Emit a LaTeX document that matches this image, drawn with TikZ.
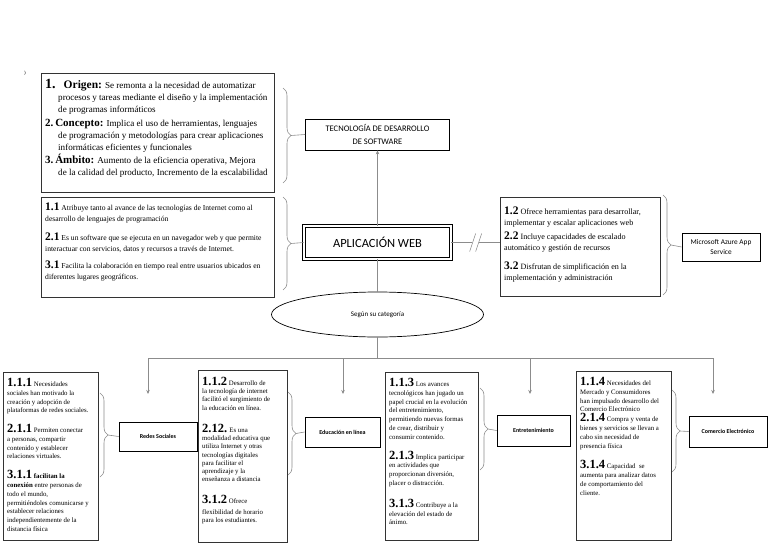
\documentclass[tikz,border=0pt]{standalone}
\usepackage{fontspec}
\setmainfont{Liberation Serif}
\setsansfont{Carlito}
\usetikzlibrary{shapes.geometric,decorations.pathreplacing,arrows.meta}

\definecolor{lineg}{HTML}{8C8C8C}
\definecolor{boxg}{HTML}{333333}

\newcommand\bignum[1]{{\fontsize{12.5}{12}\selectfont\bfseries #1}}
\newcommand\midnum[1]{{\fontsize{11.5}{12}\selectfont\bfseries #1}}

\tikzset{
  txtbox/.style={draw=boxg, line width=1.2pt, anchor=north west, inner sep=0pt},
  txt/.style={anchor=north west, align=left, inner sep=0pt, font=\fontsize{6.8}{8.8}\selectfont},
  catbox/.style={draw, line width=0.9pt, font=\sffamily\bfseries\fontsize{6}{7}\selectfont, align=center},
  link/.style={draw=lineg, line width=0.6pt},
  brc/.style={draw=lineg, line width=0.6pt, decorate, decoration={brace, amplitude=8pt}},
}

\begin{document}
\begin{tikzpicture}[x=1pt, y=-1pt, >={Stealth[length=4pt, width=3.5pt]}]
  \useasboundingbox (0,0) rectangle (768,543);

  % upper part
  \node[inner sep=0pt, font=\fontsize{5}{5}\selectfont] (mark) at (25,73) {)};
  \node[txtbox, minimum width=233pt, minimum height=119pt] (origen) at (41,73) {};
  \node[txt, font=\fontsize{9.1}{12}\selectfont] (origentxt) at (45,79) {%
    {\fontsize{14}{14}\selectfont\bfseries 1.}\hspace{8pt}{\fontsize{11.5}{12}\selectfont\bfseries Origen:} Se remonta a la necesidad de automatizar\\
    \hspace*{13pt}procesos y tareas mediante el diseño y la implementación\\
    \hspace*{13pt}de programas informáticos\\[2pt]
    {\fontsize{11}{12}\selectfont\bfseries 2.\,Concepto:} Implica el uso de herramientas, lenguajes\\
    \hspace*{13pt}de programación y metodologías para crear aplicaciones\\
    \hspace*{13pt}informáticas eficientes y funcionales\\[1pt]
    {\fontsize{11}{12}\selectfont\bfseries 3.\,Ámbito:} Aumento de la eficiencia operativa, Mejora\\
    \hspace*{13pt}de la calidad del producto, Incremento de la escalabilidad};

  \node[txtbox, minimum width=233pt, minimum height=100pt] (concepto) at (41,197) {};
  \node[txt, font=\fontsize{7.6}{11}\selectfont] (conceptotxt) at (45,203) {%
    \midnum{1.1} Atribuye tanto al avance de las tecnologías de Internet como al\\
    desarrollo de lenguajes de programación\\[8pt]
    \midnum{2.1} Es un software que se ejecuta en un navegador web y que permite\\
    interactuar con servicios, datos y recursos a través de Internet.\\[6pt]
    \midnum{3.1} Facilita la colaboración en tiempo real entre usuarios ubicados en\\
    diferentes lugares geográficos.};

  \node[draw, line width=0.7pt, minimum width=144pt, minimum height=31pt, align=center,
        font=\sffamily\fontsize{8.5}{13}\selectfont] (tecno) at (377.5,134.5) {TECNOLOGÍA DE DESARROLLO\\DE SOFTWARE};
  \node[draw, double, double distance=2.5pt, line width=0.7pt, minimum width=147pt, minimum height=33pt,
        font=\sffamily\fontsize{12.5}{14}\selectfont] (appweb) at (377.5,242.5) {APLICACIÓN WEB};
  \node[ellipse, draw, line width=0.7pt, minimum width=212pt, minimum height=45pt,
        font=\sffamily\fontsize{7}{8}\selectfont] (cat) at (377.5,314.5) {Según su categoría};

  \node[txtbox, minimum width=160pt, minimum height=99pt] (azurebox) at (500,197) {};
  \node[txt, font=\fontsize{8.1}{10.5}\selectfont] (azuretxt) at (504,207) {%
    \midnum{1.2} Ofrece herramientas para desarrollar,\\
    implementar y escalar aplicaciones web\\[4pt]
    \midnum{2.2} Incluye capacidades de escalado\\
    automático y gestión de recursos\\[9pt]
    \midnum{3.2} Disfrutan de simplificación en la\\
    implementación y administración};
  \node[draw, line width=0.8pt, minimum width=78pt, minimum height=28pt, align=center,
        font=\sffamily\fontsize{7.3}{10}\selectfont] (azure) at (721,247) {Microsoft Azure App\\Service};

  % braces
  \coordinate (t1) at (291,135.5);
  \coordinate (t2) at (291,243.5);
  \coordinate (t3) at (671,245);
  \draw[brc] (283,88) -- (283,183);
  \draw[brc] (283,197) -- (283,290);
  \draw[brc] (663,195) -- (663,295);
  \draw[link] (t1) -- (tecno.west);
  \draw[link] (t2) -- (appweb.west);
  \draw[link] (t3) -- (azure.west);

  \draw[link, ->] (appweb.north) -- (tecno.south);
  \draw[link] (appweb.south) -- (cat.north);
  \draw[link] (appweb.east) -- (appweb.east -| azurebox.west)
    node[pos=0.5, fill=white, inner sep=0pt, minimum width=7pt, minimum height=2pt] (brk) {};
  \draw[link] ([shift={(-6,9)}]brk.center) -- ([shift={(0,-9)}]brk.center);
  \draw[link] ([shift={(0,9)}]brk.center) -- ([shift={(6,-9)}]brk.center);

  % categories
  \coordinate (jn) at (377.5,358);
  \coordinate (dR) at (148,394);
  \coordinate (dE) at (343,394);
  \coordinate (dT) at (530,394);
  \coordinate (dC) at (713,394);
  \draw[link] (cat.south) -- (jn);
  \draw[link, ->] (jn) -| (dR);
  \draw[link, ->] (jn) -| (dE);
  \draw[link, ->] (jn) -| (dT);
  \draw[link, ->] (jn) -| (dC);

  \node[catbox, minimum width=78pt, minimum height=29pt] (redes) at (158,436.5) {Redes Sociales};
  \node[catbox, minimum width=75pt, minimum height=30pt] (educ) at (342.5,432) {Educación en línea};
  \node[catbox, minimum width=73pt, minimum height=31pt] (entre) at (533.5,430.5) {Entretenimiento};
  \node[catbox, minimum width=78pt, minimum height=31pt] (comer) at (728,431.5) {Comercio Electrónico};

  \node[txtbox, minimum width=95pt, minimum height=168pt] (redesbox) at (3,372) {};
  \node[txt] (redestxt) at (7,378) {%
    \bignum{1.1.1} Necesidades\\
    sociales han motivado la\\
    creación y adopción de\\
    plataformas de redes sociales.\\[9pt]
    \bignum{2.1.1} Permiten conectar\\
    a personas, compartir\\
    contenido y establecer\\
    relaciones virtuales.\\[11pt]
    \bignum{3.1.1} \textbf{facilitan la}\\
    \textbf{conexión} entre personas de\\
    todo el mundo,\\
    permitiéndoles comunicarse y\\
    establecer relaciones\\
    independientemente de la\\
    distancia física};

  \node[txtbox, minimum width=89pt, minimum height=172pt] (educbox) at (198,370) {};
  \node[txt, font=\fontsize{6.8}{8.2}\selectfont] (eductxt) at (202,377) {%
    \bignum{1.1.2} Desarrollo de\\
    la tecnología de internet\\
    facilitó el surgimiento de\\
    la educación en línea.\\[13pt]
    \bignum{2.12.} Es una\\
    modalidad educativa que\\
    utiliza Internet y otras\\
    tecnologías digitales\\
    para facilitar el\\
    aprendizaje y la\\
    enseñanza a distancia\\[13pt]
    \bignum{3.1.2} Ofrece\\[2pt]
    flexibilidad de horario\\
    para los estudiantes.};

  \node[txtbox, minimum width=93pt, minimum height=168pt] (entrebox) at (385,372) {};
  \node[txt] (entretxt) at (389,378) {%
    \bignum{1.1.3} Los avances\\
    tecnológicos han jugado un\\
    papel crucial en la evolución\\
    del entretenimiento,\\
    permitiendo nuevas formas\\
    de crear, distribuir y\\
    consumir contenido.\\[11pt]
    \bignum{2.1.3} Implica participar\\
    en actividades que\\
    proporcionan diversión,\\
    placer o distracción.\\[11pt]
    \bignum{3.1.3} Contribuye a la\\
    elevación del estado de\\
    ánimo.};

  \node[txtbox, minimum width=95pt, minimum height=169pt] (comerbox) at (576,371) {};
  \node[txt] (comertxt) at (580,377) {%
    \bignum{1.1.4} Necesidades del\\
    Mercado y Consumidores\\
    han impulsado desarrollo del\\
    Comercio Electrónico\\[1pt]
    \bignum{2.1.4} Compra y venta de\\
    bienes y servicios se llevan a\\
    cabo sin necesidad de\\
    presencia física\\[10pt]
    \bignum{3.1.4} Capacidad\ \ se\\
    aumenta para analizar datos\\
    de comportamiento del\\
    cliente.};

  \coordinate (tA) at (108,435);
  \coordinate (tB) at (296,433.5);
  \coordinate (tC) at (488,429);
  \coordinate (tD) at (680,431);
  \draw[brc] (100,393) -- (100,477);
  \draw[brc] (288,392) -- (288,475);
  \draw[brc] (480,388) -- (480,470);
  \draw[brc] (672,390) -- (672,472);
  \draw[link] (tA) -- (redes.west);
  \draw[link] (tB) -- (educ.west);
  \draw[link] (tC) -- (entre.west);
  \draw[link] (tD) -- (comer.west);
\end{tikzpicture}
\end{document}
